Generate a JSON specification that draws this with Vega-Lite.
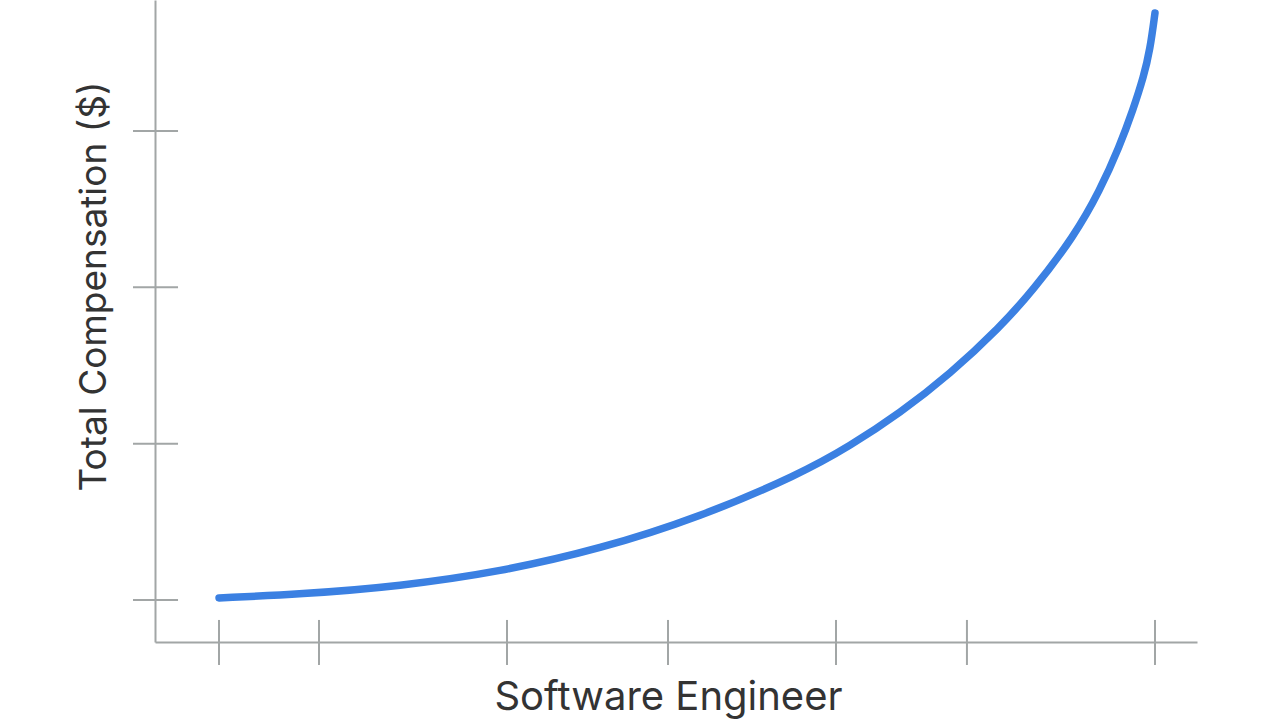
{
  "$schema": "https://vega.github.io/schema/vega-lite/v6.json",
  "width": 1042,
  "height": 642,
  "autosize": {"type": "none"},
  "padding": {"left": 155, "top": 0, "right": 83, "bottom": 78},
  "background": "white",
  "config": {"view": {"stroke": null}, "font": "Inter"},
  "datasets": {
    "curve": [
      {"x": 0.0, "y": 101.3},
      {"x": 0.865, "y": 103.6},
      {"x": 1.934, "y": 108.8},
      {"x": 3.002, "y": 118.0},
      {"x": 4.071, "y": 132.6},
      {"x": 5.139, "y": 153.0},
      {"x": 6.207, "y": 180.5},
      {"x": 6.742, "y": 198.5},
      {"x": 7.276, "y": 219.6},
      {"x": 7.81, "y": 244.5},
      {"x": 8.344, "y": 274.5},
      {"x": 8.697, "y": 298.0},
      {"x": 9.14, "y": 333.0},
      {"x": 9.412, "y": 362.0},
      {"x": 9.62, "y": 390.0},
      {"x": 9.765, "y": 413.5},
      {"x": 9.88, "y": 435.0},
      {"x": 9.947, "y": 452.0},
      {"x": 10.0, "y": 475.5}
    ],
    "xticks": [
      {"x": 0.0}, {"x": 1.068}, {"x": 3.077}, {"x": 4.797},
      {"x": 6.592}, {"x": 7.991}, {"x": 10.0}
    ],
    "yticks": [
      {"y": 100}, {"y": 200}, {"y": 300}, {"y": 400}
    ]
  },
  "layer": [
    {
      "data": {"name": "curve"},
      "mark": {
        "type": "line",
        "color": "#3b80e2",
        "strokeWidth": 7.5,
        "strokeCap": "round",
        "interpolate": "basis"
      },
      "encoding": {
        "x": {
          "field": "x",
          "type": "quantitative",
          "scale": {"domain": [-0.684, 10.449], "nice": false, "zero": false},
          "axis": {
            "title": "Software Engineer",
            "ticks": false,
            "labels": false,
            "grid": false,
            "domainColor": "#a2a6a6",
            "domainWidth": 2,
            "titleFont": "Inter",
            "titleFontSize": 40,
            "titleFontWeight": "normal",
            "titleColor": "#333333",
            "titleX": 513,
            "titleY": 67,
            "titleAlign": "center",
            "titleBaseline": "alphabetic"
          }
        },
        "y": {
          "field": "y",
          "type": "quantitative",
          "scale": {"domain": [73.1, 483.8], "nice": false, "zero": false},
          "axis": {
            "title": "Total Compensation ($)",
            "ticks": false,
            "labels": false,
            "grid": false,
            "domainColor": "#a2a6a6",
            "domainWidth": 2,
            "titleFont": "Inter",
            "titleFontSize": 37,
            "titleFontWeight": "normal",
            "titleColor": "#333333",
            "titleAngle": -90,
            "titleX": -50,
            "titleY": 286,
            "titleAlign": "center",
            "titleBaseline": "alphabetic"
          }
        }
      }
    },
    {
      "data": {"name": "xticks"},
      "mark": {"type": "rule", "color": "#a2a6a6", "strokeWidth": 2},
      "encoding": {
        "x": {"field": "x", "type": "quantitative"},
        "y": {"datum": 87.2, "type": "quantitative"},
        "y2": {"datum": 58.4}
      }
    },
    {
      "data": {"name": "yticks"},
      "mark": {"type": "rule", "color": "#a2a6a6", "strokeWidth": 2},
      "encoding": {
        "y": {"field": "y", "type": "quantitative"},
        "x": {"datum": -0.919, "type": "quantitative"},
        "x2": {"datum": -0.438}
      }
    }
  ]
}
